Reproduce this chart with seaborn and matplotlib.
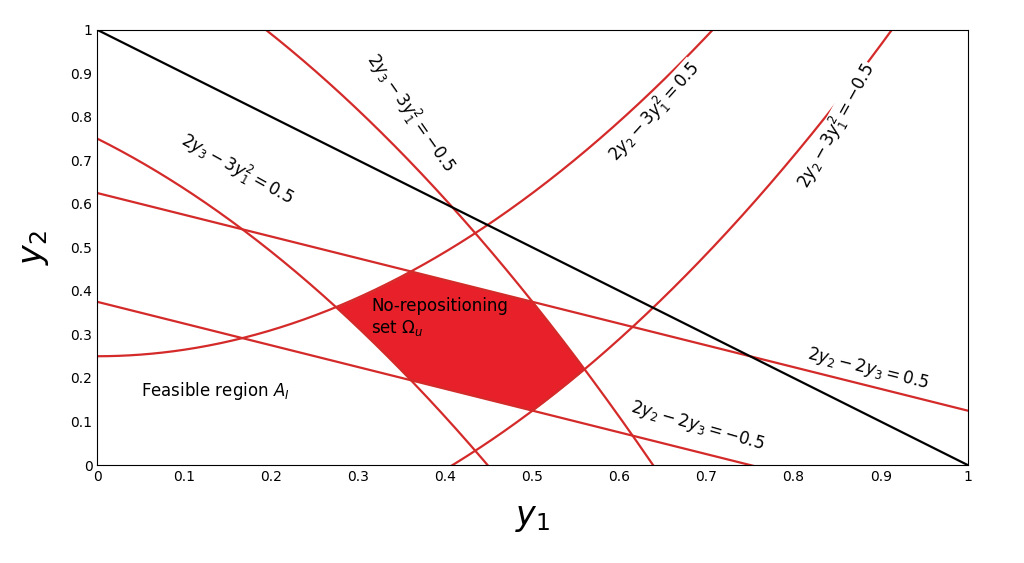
import numpy as np
import pandas as pd
import matplotlib
matplotlib.use("Agg")
import matplotlib.pyplot as plt
import seaborn as sns

# Curves written as y2 = c0 + c1*y1 + c2*y1^2
curve_names = ["s3_hi", "s3_lo", "q2_hi", "q2_lo", "d_hi", "d_lo"]
c0 = [0.75, 1.25, 0.25, -0.25, 0.625, 0.375]
c1 = [-1.0, -1.0, 0.0, 0.0, -0.5, -0.5]
c2 = [-1.5, -1.5, 1.5, 1.5, 0.0, 0.0]
labels = [r"$2y_3-3y_1^2=0.5$", r"$2y_3-3y_1^2=-0.5$", r"$2y_2-3y_1^2=0.5$",
          r"$2y_2-3y_1^2=-0.5$", r"$2y_2-2y_3=0.5$", r"$2y_2-2y_3=-0.5$"]
label_xy = [(0.16, 0.68), (0.36, 0.81), (0.64, 0.81), (0.85, 0.78), (0.885, 0.22), (0.69, 0.09)]
label_rot = [-29, -55, 48, 61, -14, -16]

ticks = [0, 0.1, 0.2, 0.3, 0.4, 0.5, 0.6, 0.7, 0.8, 0.9, 1]
tick_labels = ["0", "0.1", "0.2", "0.3", "0.4", "0.5", "0.6", "0.7", "0.8", "0.9", "1"]

sns.set_style("white")
fig = plt.figure(figsize=(10.24, 5.63), dpi=100)
ax = fig.add_axes([0.095, 0.174, 0.85, 0.773])

x = np.linspace(0, 1, 801)
rows = []
for n, a, b, c in zip(curve_names, c0, c1, c2):
    y = a + b * x + c * x ** 2
    for xi, yi in zip(x, y):
        rows.append((n, xi, yi))
df = pd.DataFrame(rows, columns=["curve", "y1", "y2"])
sns.lineplot(data=df, x="y1", y="y2", units="curve", estimator=None,
             color="#d42a2a", lw=1.6, ax=ax, sort=False)
bl = pd.DataFrame({"y1": [0, 1], "y2": [1, 0]})
sns.lineplot(data=bl, x="y1", y="y2", color="black", lw=1.6, ax=ax)

Y = {n: a + b * x + c * x ** 2 for n, a, b, c in zip(curve_names, c0, c1, c2)}
lo = np.maximum.reduce([Y["s3_hi"], Y["q2_lo"], Y["d_lo"]])
hi = np.minimum.reduce([Y["s3_lo"], Y["q2_hi"], Y["d_hi"]])
ax.fill_between(x, lo, hi, where=hi > lo, color="#e8202a", lw=0)

for t, (tx, ty), r in zip(labels, label_xy, label_rot):
    ax.text(tx, ty, t, rotation=r, ha="center", va="center", fontsize=12, color="black",
            rotation_mode="anchor", bbox=dict(fc="white", ec="none", pad=0.5))

ax.text(0.05, 0.17, r"Feasible region $A_I$", fontsize=12, va="center", color="black")
ax.text(0.315, 0.34, "No-repositioning\nset $\\Omega_u$", fontsize=12, va="center", color="black")

ax.set_xlim(0, 1)
ax.set_ylim(0, 1)
ax.set_xticks(ticks)
ax.set_xticklabels(tick_labels)
ax.set_yticks(ticks)
ax.set_yticklabels(tick_labels)
ax.tick_params(direction="in", length=4, labelsize=10, labelcolor="black")
for s in ax.spines.values():
    s.set_color("black"); s.set_linewidth(0.8)
ax.set_xlabel(r"$y_1$", fontsize=24, labelpad=12, color="black")
ax.set_ylabel(r"$y_2$", fontsize=24, labelpad=14, color="black")
fig.savefig("out.png", dpi=100)
